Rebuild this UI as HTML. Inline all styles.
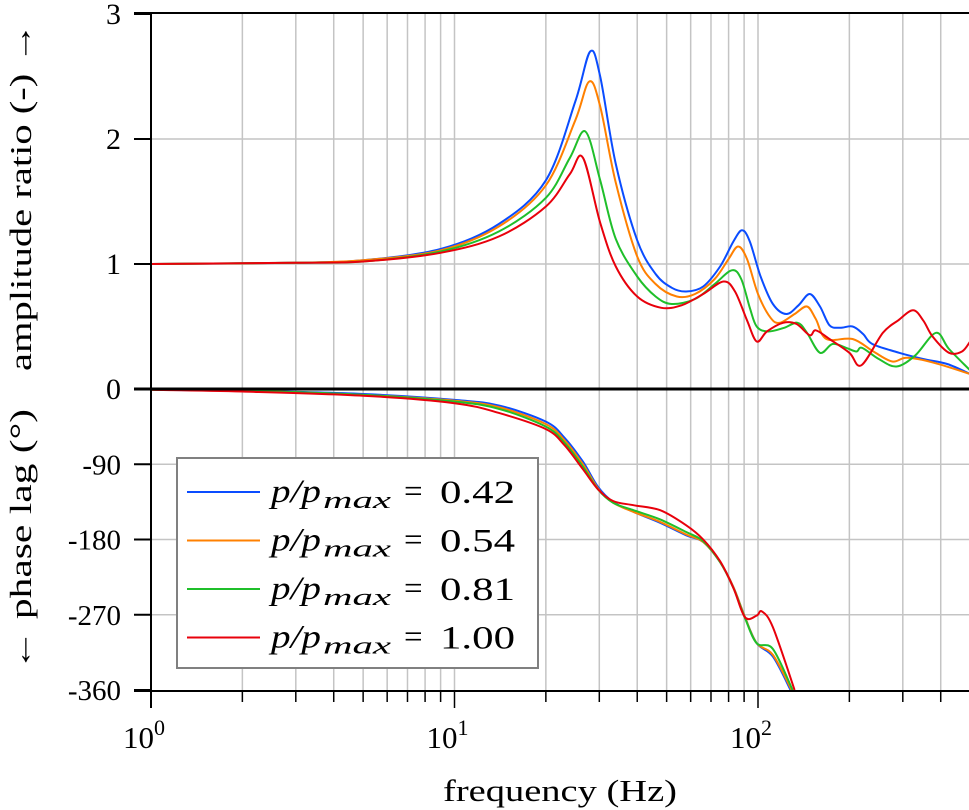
<!DOCTYPE html>
<html><head><meta charset="utf-8"><style>
body{margin:0;background:#fff}
svg{display:block}
text{font-family:"Liberation Serif",serif;fill:#000}
</style></head><body>
<svg id="chart" width="969" height="810" viewBox="0 0 969 810" xmlns="http://www.w3.org/2000/svg">
<g id="grid"></g>
<g id="series"></g>
<g id="axes"></g>
<text transform="translate(31,197) rotate(-90)" text-anchor="middle" font-size="31" font-family="Liberation Serif" textLength="348" lengthAdjust="spacingAndGlyphs">amplitude ratio (-) →</text>
<text transform="translate(31,540) rotate(-90)" text-anchor="middle" font-size="31" font-family="Liberation Serif" textLength="262" lengthAdjust="spacingAndGlyphs">← phase lag (°)</text>
<text x="560" y="801" text-anchor="middle" font-size="31" textLength="234" lengthAdjust="spacingAndGlyphs">frequency (Hz)</text>
<g id="legend"></g>
</svg>
<script>
const seriesNames=["0.42","0.54","0.81","1.00"];
const colors=["#0a4cff","#ff8000","#1fbf2a","#e8000b"];
const ampTicks=[0,1,2,3];
const phaseTicks=[0,-90,-180,-270,-360];
const phaseTickLabels=["0","-90","-180","-270","-360"];
const ampBlue=[[1,1],[3,1.01],[5,1.03],[9,1.12],[14,1.32],[20,1.67],[25,2.3],[28,2.7],[30.2,2.5],[34,1.8],[40,1.19],[46,0.92],[52,0.81],[58,0.78],[66,0.82],[75,0.98],[83,1.18],[88.6,1.27],[94,1.18],[102,0.9],[112,0.68],[124,0.6],[136,0.67],[148,0.76],[160,0.66],[172,0.51],[186,0.49],[205,0.5],[222,0.44],[238,0.36],[292,0.29],[350,0.24],[420,0.2],[500,0.12]];
const ampOrange=[[1,1],[3,1.01],[5,1.03],[9,1.11],[14,1.3],[20,1.63],[25,2.15],[27.8,2.46],[30.2,2.26],[34,1.65],[40,1.06],[46,0.84],[54,0.74],[62,0.76],[72,0.88],[80,1.04],[86,1.14],[92,1.04],[100,0.76],[110,0.57],[118,0.53],[132,0.6],[145,0.66],[155,0.56],[168,0.4],[205,0.4],[240,0.3],[277,0.22],[310,0.25],[380,0.21],[500,0.12]];
const ampGreen=[[1,1],[3,1.01],[5,1.02],[9,1.1],[14,1.26],[20,1.53],[24,1.85],[27,2.06],[30.2,1.67],[34,1.2],[40,0.9],[46,0.74],[52,0.68],[62,0.72],[72,0.84],[82,0.95],[88,0.88],[94,0.65],[99,0.5],[108,0.46],[122,0.49],[135,0.53],[145,0.45],[160,0.29],[176,0.36],[195,0.33],[211,0.3],[220,0.33],[250,0.24],[286,0.18],[330,0.27],[386,0.45],[426,0.32],[500,0.15]];
const ampRed=[[1,1],[3,1.01],[5,1.02],[9,1.09],[14,1.22],[20,1.46],[24,1.72],[26.5,1.85],[30.2,1.33],[34,0.98],[40,0.74],[48,0.65],[56,0.67],[66,0.76],[77,0.86],[84,0.78],[92,0.55],[99,0.38],[107,0.46],[121,0.53],[134,0.52],[148,0.43],[155,0.47],[172,0.4],[200,0.29],[219,0.19],[258,0.45],[290,0.55],[324,0.63],[350,0.55],[376,0.42],[426,0.29],[470,0.3],[500,0.38]];
const phBlue=[[1,-1],[2,-2],[5,-6],[10,-13],[14.1,-20],[20,-39],[23,-58],[26.5,-87],[29.7,-117],[33.3,-135],[38.9,-147],[47.6,-160],[58,-175],[66,-183],[75,-207],[83,-237],[90.6,-273],[99,-304],[112,-320],[128,-360]];
const phOrange=[[1,-1],[2,-2],[5,-7],[10,-14],[14.1,-22],[20,-42],[23,-61],[26.5,-90],[29.7,-119],[33.3,-136],[38.9,-147],[47.6,-159],[58,-174],[66,-183],[75,-207],[83,-237],[90.6,-273],[99,-304],[112,-318],[129,-360]];
const phGreen=[[1,-1],[2,-2],[5,-7],[10,-15],[14.1,-24],[20,-45],[23,-64],[26.5,-93],[29.7,-120],[33.3,-136],[38.9,-145],[47.6,-156],[58,-171],[66,-182],[75,-207],[83,-238],[90.6,-274],[99,-304],[112,-311],[130,-360]];
const phRed=[[1,-1],[2,-3],[5,-8],[10,-17],[14.1,-29],[20,-48],[23,-67],[26.5,-96],[29.7,-120],[33.3,-134],[38.9,-139],[47.6,-145],[58,-163],[66,-180],[75,-206],[83,-238],[90.6,-273],[99,-271],[103,-266],[112,-285],[132,-360]];
const ampSeries=[ampBlue,ampOrange,ampGreen,ampRed];
const phSeries=[phBlue,phOrange,phGreen,phRed];

const NS="http://www.w3.org/2000/svg";
const X0=151,DEC=303.5,XR=969;
function xs(f){return X0+Math.log10(f)*DEC;}
function ya(a){return 389-a*125;}
function yp(p){return 389-p*(301/360);}
function mk(tag,attrs,parent){const e=document.createElementNS(NS,tag);for(const k in attrs)e.setAttribute(k,attrs[k]);parent.appendChild(e);return e;}
const grid=document.getElementById('grid'),axes=document.getElementById('axes'),ser=document.getElementById('series'),leg=document.getElementById('legend');
for(let d=0;d<3;d++){for(let m=1;m<10;m++){const f=m*Math.pow(10,d);const x=xs(f);if(x>XR)continue;
 if(!(d===0&&m===1)){const g=mk('line',{x1:x,x2:x,y1:13,y2:691,stroke:'#c4c4c4','stroke-width':1.5},grid);
 
 }
 const t=mk('line',{x1:x,x2:x,y1:691,y2:m===1?708:702,stroke:'#000','stroke-width':1.5},axes);
 
 }}
[1,2].forEach(a=>{const g=mk('line',{x1:X0,x2:XR,y1:ya(a),y2:ya(a),stroke:'#c4c4c4','stroke-width':1.5},grid);
 
 });
[-90,-180,-270].forEach(p=>{const g=mk('line',{x1:X0,x2:XR,y1:yp(p),y2:yp(p),stroke:'#c4c4c4','stroke-width':1.5},grid);
 
 });
function path(arr,yf,color,name){
 const P=arr.map(p=>[xs(p[0]),yf(p[1])]);
 let d='M'+P[0][0].toFixed(1)+','+P[0][1].toFixed(1);
 for(let i=0;i<P.length-1;i++){const p0=P[Math.max(0,i-1)],p1=P[i],p2=P[i+1],p3=P[Math.min(P.length-1,i+2)];
  const t=1/6;
  const c1=[p1[0]+(p2[0]-p0[0])*t,p1[1]+(p2[1]-p0[1])*t];
  const c2=[p2[0]-(p3[0]-p1[0])*t,p2[1]-(p3[1]-p1[1])*t];
  d+='C'+c1[0].toFixed(1)+','+c1[1].toFixed(1)+' '+c2[0].toFixed(1)+','+c2[1].toFixed(1)+' '+p2[0].toFixed(1)+','+p2[1].toFixed(1);}
 const e=mk('path',{d:d,fill:'none',stroke:color,'stroke-width':2,'stroke-linejoin':'round'},ser);
 
 }
ampSeries.forEach((s,i)=>path(s,ya,colors[i],'amplitude-line-'+i));
phSeries.forEach((s,i)=>path(s,yp,colors[i],'phase-line-'+i));
mk('line',{x1:X0,x2:X0,y1:13,y2:708,stroke:'#000','stroke-width':2},axes);
mk('line',{x1:134,x2:XR,y1:13,y2:13,stroke:'#000','stroke-width':2},axes);
mk('line',{x1:134,x2:XR,y1:389,y2:389,stroke:'#000','stroke-width':3},axes);
mk('line',{x1:134,x2:XR,y1:691,y2:691,stroke:'#000','stroke-width':2},axes);
ampTicks.forEach(a=>{const l=mk('line',{x1:134,x2:X0,y1:ya(a),y2:ya(a),stroke:'#000','stroke-width':2},axes);
 
 
 const t=mk('text',{x:121,y:ya(a)+10,'text-anchor':'end','font-size':30},axes);t.textContent=a;
 
 });
phaseTicks.forEach((p,i)=>{if(p===0)return;const l=mk('line',{x1:134,x2:X0,y1:yp(p),y2:yp(p),stroke:'#000','stroke-width':2},axes);
 
 
 const t=mk('text',{x:121,y:yp(p)+10,'text-anchor':'end','font-size':29},axes);t.textContent=phaseTickLabels[i];
 
 });
[0,1,2].forEach(d=>{const t=mk('text',{x:xs(Math.pow(10,d))-7,y:748,'text-anchor':'middle','font-size':31},axes);
 t.innerHTML='10<tspan dy="-13" font-size="22">'+d+'</tspan>';
 
 });
mk('rect',{x:177,y:458,width:361,height:210,fill:'#fff',stroke:'#808080','stroke-width':2},leg);
seriesNames.forEach((n,i)=>{const y=492+i*48.5;
 const l=mk('line',{x1:187,x2:260,y1:y,y2:y,stroke:colors[i],'stroke-width':2},leg);
 
 
 const g=mk('g',{},leg);
 
 
 const a=mk('text',{x:271,y:y+10,'font-size':33,'font-style':'italic',textLength:50,lengthAdjust:'spacingAndGlyphs'},g);a.textContent='p/p';
 const b=mk('text',{x:323,y:y+16,'font-size':24,'font-style':'italic',textLength:68,lengthAdjust:'spacingAndGlyphs'},g);b.textContent='max';
 const c=mk('text',{x:404,y:y+10,'font-size':33},g);c.textContent='=';
 const v=mk('text',{x:440,y:y+11,'font-size':33,textLength:75,lengthAdjust:'spacingAndGlyphs'},g);v.textContent=n;});
</script>
</body></html>
